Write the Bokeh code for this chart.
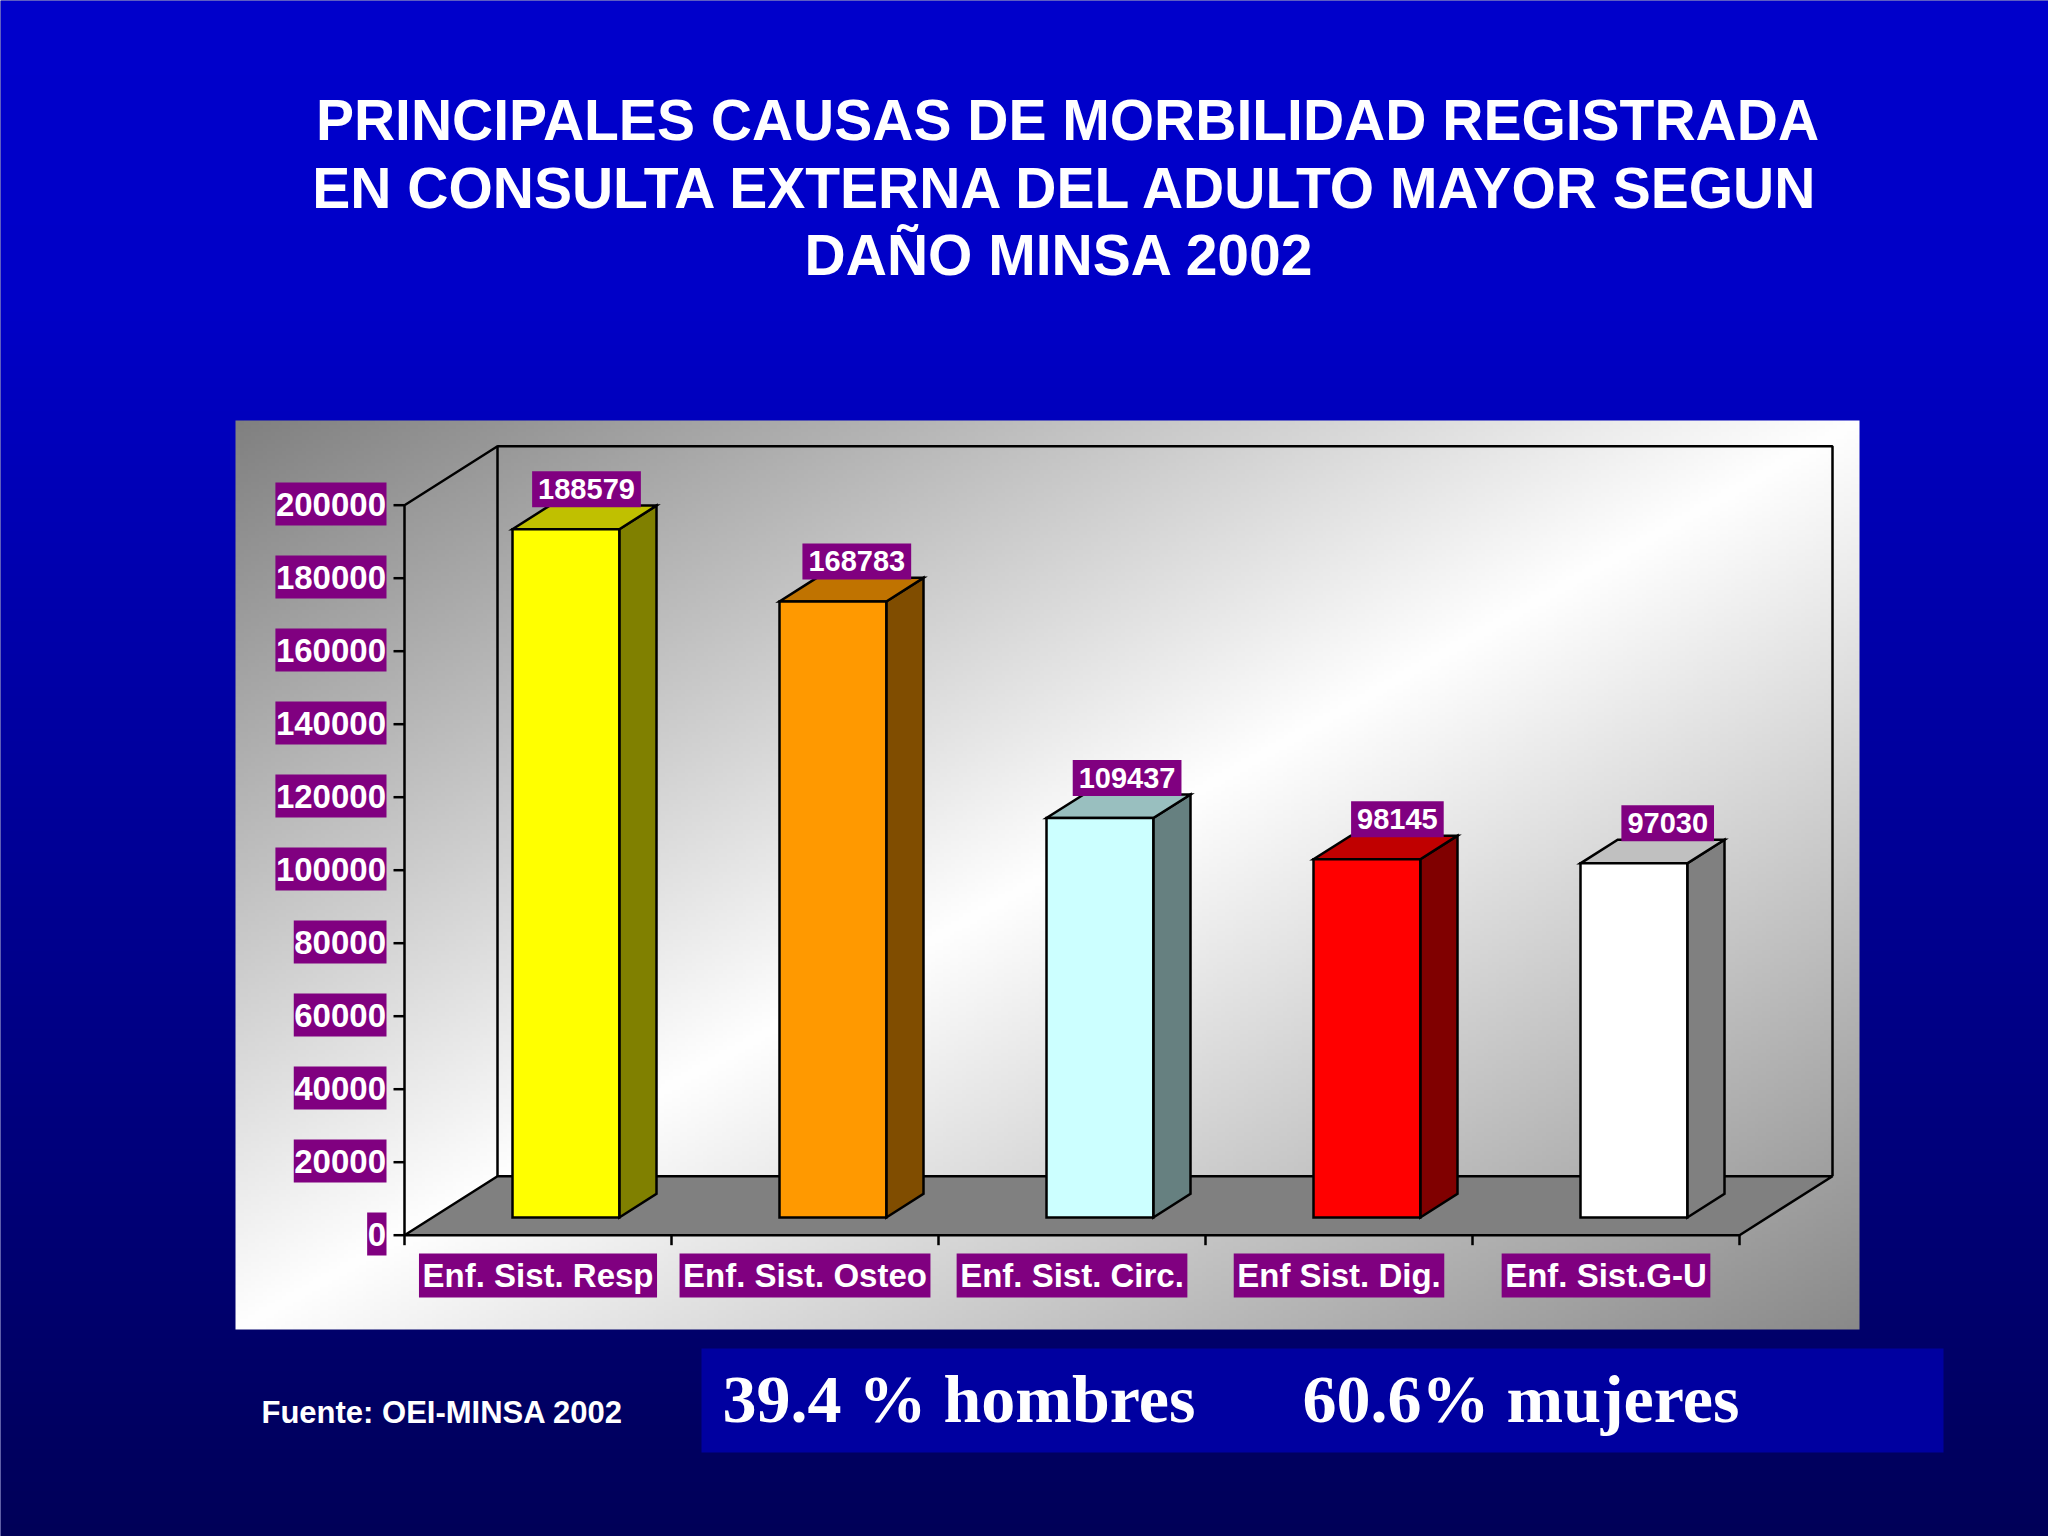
import numpy as np
from bokeh.plotting import figure
from bokeh.models import Range1d, ColumnDataSource, Label
from bokeh.core.properties import value
from bokeh.embed import file_html
from bokeh.resources import INLINE

# ---- data -------------------------------------------------------------
categories = ["Enf. Sist. Resp", "Enf. Sist. Osteo", "Enf. Sist. Circ.",
              "Enf Sist. Dig.", "Enf. Sist.G-U"]
cases = [188579, 168783, 109437, 98145, 97030]
y_ticks = [0, 20000, 40000, 60000, 80000, 100000,
           120000, 140000, 160000, 180000, 200000]
y_max = 200000

front_colors = ["#FFFF00", "#FF9900", "#CCFFFF", "#FF0000", "#FFFFFF"]
top_colors = ["#C0C000", "#C07300", "#99BFBF", "#C00000", "#C0C0C0"]
side_colors = ["#808000", "#804D00", "#668080", "#800000", "#808080"]

title_lines = ["PRINCIPALES CAUSAS DE MORBILIDAD REGISTRADA",
               "EN CONSULTA EXTERNA DEL ADULTO MAYOR SEGUN",
               "DAÑO  MINSA 2002"]
source_note = "Fuente: OEI-MINSA 2002"
sex_split = ["39.4 % hombres", "60.6% mujeres"]

# ---- page geometry ----------------------------------------------------
W, H = 2048, 1536
X0_PX, Y0_PX = 404.0, 1234.7        # origin of the category / value axes
CAT_PX = 267.0                       # pixels per category slot
VAL_PX = 730.0 / y_max               # pixels per case


def fx(px):
    return (px - X0_PX) / CAT_PX


def fy(py):
    return (Y0_PX - py) / VAL_PX


def baseline_y(py, size):
    # glyph text sits ~0.37 em low with the alphabetic baseline; compensate
    return fy(py - 0.37 * size)


# advance widths (em) of Liberation Sans Bold, used to size label boxes
ADV = {" ": 0.278, ".": 0.278, "-": 0.333, "E": 0.667, "n": 0.611,
       "f": 0.333, "S": 0.667, "i": 0.278, "s": 0.556, "t": 0.333,
       "R": 0.722, "e": 0.556, "p": 0.611, "O": 0.778, "o": 0.611,
       "C": 0.722, "r": 0.389, "c": 0.556, "D": 0.722, "g": 0.611,
       "G": 0.778, "U": 0.722}


def text_w(s, size):
    return sum(ADV.get(ch, 0.556) for ch in s) * size


DX = 93.0 / CAT_PX      # depth offset of the back wall (category units)
DY = 59.0 / VAL_PX      # depth offset of the back wall (value units)
D0, D1 = 0.3, 0.7       # bar depth span
HALF_W = 0.2            # half bar width
n = len(categories)

SANS_NAME = "Liberation Sans"
SANS = value(SANS_NAME)
SERIF = value("Liberation Serif")
PURPLE = "#800080"

p = figure(width=W, height=H, x_range=Range1d(fx(0), fx(W)),
           y_range=Range1d(fy(H), fy(0)), output_backend="svg",
           toolbar_location=None, min_border=0, outline_line_color=None,
           x_axis_type=None, y_axis_type=None)
p.grid.visible = False
p.background_fill_color = "#000080"
p.border_fill_color = "#000080"

# ---- page background: blue vertical gradient --------------------------
rows = 512
bg = np.empty((rows, 1), dtype=np.uint32)
bgv = bg.view(dtype=np.uint8).reshape((rows, 1, 4))
py_rows = H * (1 - (np.arange(rows) + 0.5) / rows)
blue = np.interp(py_rows, [0, 300, 1536], [204, 200, 88])
bgv[:, 0, 0] = 0
bgv[:, 0, 1] = 0
bgv[:, 0, 2] = blue.astype(np.uint8)
bgv[:, 0, 3] = 255
p.image_rgba(image=[bg], x=fx(0), y=fy(H), dw=fx(W) - fx(0), dh=fy(0) - fy(H))

# ---- chart panel: diagonal grey-white-grey gradient -------------------
PX_L, PX_R, PY_T, PY_B = 235, 1859, 420, 1329
pr, pc = 240, 420
panel = np.empty((pr, pc), dtype=np.uint32)
pv = panel.view(dtype=np.uint8).reshape((pr, pc, 4))
xf = (np.arange(pc) + 0.5) / pc
yf_top = 1 - (np.arange(pr) + 0.5) / pr
u = (xf[None, :] + yf_top[:, None]) / 2
g = np.where(u < 0.5, 255 - 127 * (1 - 2 * u), 255 - 118 * (2 * u - 1))
g = g.astype(np.uint8)
pv[:, :, 0] = g
pv[:, :, 1] = g
pv[:, :, 2] = g
pv[:, :, 3] = 255
p.image_rgba(image=[panel], x=fx(PX_L), y=fy(PY_B),
             dw=fx(PX_R) - fx(PX_L), dh=fy(PY_T) - fy(PY_B))

# ---- 3D frame: floor, walls, axis --------------------------------------
LW = 2.5
p.patch([0, n, n + DX, DX], [0, 0, DY, DY], fill_color="#808080",
        line_color="black", line_width=LW)
p.line([DX, DX, n + DX, n + DX], [DY, y_max + DY, y_max + DY, DY],
       line_color="black", line_width=LW)
p.line([0, 0, DX], [0, y_max, y_max + DY], line_color="black", line_width=LW)

tick_len_x = 11 / CAT_PX
p.segment(x0=[0] * len(y_ticks), y0=y_ticks,
          x1=[-tick_len_x] * len(y_ticks), y1=y_ticks,
          line_color="black", line_width=LW)
tick_len_y = 10 / VAL_PX
p.segment(x0=list(range(n + 1)), y0=[0] * (n + 1),
          x1=list(range(n + 1)), y1=[-tick_len_y] * (n + 1),
          line_color="black", line_width=LW)

# ---- bars ---------------------------------------------------------------
fx_, fy_, tx_, ty_, sx_, sy_ = [], [], [], [], [], []
for i, v in enumerate(cases):
    c = i + 0.5
    l0, r0 = c - HALF_W + D0 * DX, c + HALF_W + D0 * DX
    l1, r1 = c - HALF_W + D1 * DX, c + HALF_W + D1 * DX
    b0, b1 = D0 * DY, D1 * DY
    fx_.append([l0, r0, r0, l0])
    fy_.append([b0, b0, v + b0, v + b0])
    tx_.append([l0, r0, r1, l1])
    ty_.append([v + b0, v + b0, v + b1, v + b1])
    sx_.append([r0, r1, r1, r0])
    sy_.append([b0, b1, v + b1, v + b0])

for xs, ys, cols in ((sx_, sy_, side_colors), (tx_, ty_, top_colors),
                     (fx_, fy_, front_colors)):
    src = ColumnDataSource(dict(xs=xs, ys=ys, color=cols))
    p.patches("xs", "ys", source=src, fill_color="color",
              line_color="black", line_width=LW, line_join="miter")

# ---- labels on purple boxes ---------------------------------------------
box_x, box_y, box_w, box_h = [], [], [], []
labels = []

TICK_SIZE = 33
TICK_RIGHT_PX = 385.5
for t in y_ticks:
    s = str(t)
    w = text_w(s, TICK_SIZE)
    cx = fx(TICK_RIGHT_PX - w / 2)
    box_x.append(cx)
    box_y.append(t + 1.2 / VAL_PX)
    box_w.append(w + 1)
    box_h.append(43)
    labels.append((cx, t + 1.2 / VAL_PX, s, TICK_SIZE))

VAL_SIZE = 29
for i, v in enumerate(cases):
    cx = i + 0.5 + 0.5 * DX + (2 + 3.3 * i) / CAT_PX
    cy = v + D0 * DY + 40 / VAL_PX
    s = str(v)
    box_x.append(cx)
    box_y.append(cy)
    box_w.append(text_w(s, VAL_SIZE) + 12)
    box_h.append(36)
    labels.append((cx, cy, s, VAL_SIZE))

CAT_SIZE = 33
for i, name in enumerate(categories):
    cx = i + 0.5
    cy = fy(1275)
    box_x.append(cx)
    box_y.append(cy)
    box_w.append(text_w(name, CAT_SIZE) + 7)
    box_h.append(44)
    labels.append((cx, cy, name, CAT_SIZE))

p.rect(x=box_x, y=box_y, width=box_w, height=box_h, width_units="screen",
       height_units="screen", fill_color=PURPLE, line_color=None)

for x, y, s, size in labels:
    p.add_layout(Label(x=x, y=y, text=s, text_align="center",
                       text_baseline="middle", text_font=SANS_NAME,
                       text_font_style="bold", text_font_size=f"{size}px",
                       text_color="white"))

# ---- titles and footer ---------------------------------------------------
TITLE_SIZE = 57
baselines = [141, 208.5, 276]
p.text(x=[fx(1067)] * 3, y=[baseline_y(b, TITLE_SIZE) for b in baselines],
       text=title_lines, text_align="center", text_baseline="alphabetic",
       text_font=SANS, text_font_style="bold",
       text_font_size=f"{TITLE_SIZE}px", text_color="white")

NOTE_SIZE = 31
p.text(x=[fx(261)], y=[baseline_y(1423, NOTE_SIZE)], text=[source_note],
       text_align="left", text_baseline="alphabetic", text_font=SANS,
       text_font_style="bold", text_font_size=f"{NOTE_SIZE}px",
       text_color="white")

SPLIT_SIZE = 68
p.quad(left=[fx(701)], right=[fx(1943)], top=[fy(1348)], bottom=[fy(1452)],
       fill_color="#0000A0", line_color=None)
p.text(x=[fx(722), fx(1302)], y=[baseline_y(1424, SPLIT_SIZE)] * 2,
       text=sex_split, text_align="left", text_baseline="alphabetic",
       text_font=SERIF, text_font_style="bold",
       text_font_size=f"{SPLIT_SIZE}px", text_color="white")

open("out.html", "w").write(file_html(p, INLINE))
